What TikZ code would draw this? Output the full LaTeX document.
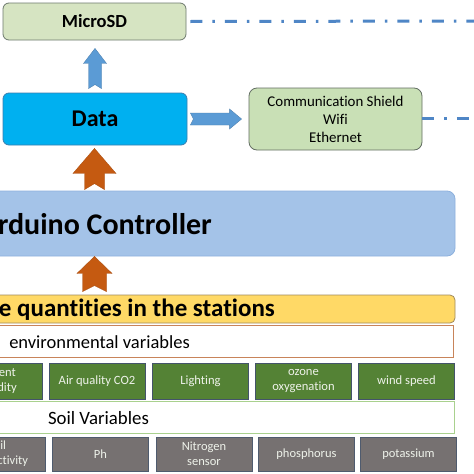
\documentclass[tikz,border=0pt]{standalone}
\usepackage{fontspec}
\setmainfont{Carlito}[Ligatures=NoCommon]
\usetikzlibrary{calc}
\definecolor{microfill}{HTML}{D6E4C2}
\definecolor{commfill}{HTML}{C9E0B6}
\definecolor{greyedge}{HTML}{6E7A6E}
\definecolor{datafill}{HTML}{00B0F0}
\definecolor{dataedge}{HTML}{3A7FB0}
\definecolor{ardfill}{HTML}{A4C3E8}
\definecolor{ardedge}{HTML}{8EB1DD}
\definecolor{yelfill}{HTML}{FFD966}
\definecolor{yeledge}{HTML}{A08A5C}
\definecolor{envedge}{HTML}{C8845A}
\definecolor{soiledge}{HTML}{A9D18E}
\definecolor{grnfill}{HTML}{548235}
\definecolor{grnedge}{HTML}{44546A}
\definecolor{gryfill}{HTML}{767171}
\definecolor{gryedge}{HTML}{4F5B6E}
\definecolor{orangearr}{HTML}{C55A11}
\definecolor{bluearr}{HTML}{5B9BD5}
\definecolor{dashcol}{HTML}{4F86C6}
\definecolor{lighttxt}{HTML}{EEF2EA}
% #1 tail point, #2 tip point, #3 half shaft, #4 half head, #5 head length, #6 notch, #7 style
\newcommand\blockup[7]{%
  \path[#7] let \p1=(#1), \p2=(#2) in
    (\x1-#3,\y1) -- (\x1,\y1+#6) -- (\x1+#3,\y1) -- (\x1+#3,\y2-#5) -- (\x1+#4,\y2-#5)
    -- (\x1,\y2) -- (\x1-#4,\y2-#5) -- (\x1-#3,\y2-#5) -- cycle;}
\newcommand\blockright[7]{%
  \path[#7] let \p1=(#1), \p2=(#2) in
    (\x1,\y1+#3) -- (\x1+#6,\y1) -- (\x1,\y1-#3) -- (\x2-#5,\y1-#3) -- (\x2-#5,\y1-#4)
    -- (\x2,\y1) -- (\x2-#5,\y1+#4) -- (\x2-#5,\y1+#3) -- cycle;}
\begin{document}
\begin{tikzpicture}[x=1pt,y=-1pt,
  rbox/.style={draw, rounded corners=6pt, inner sep=0pt, line width=0.8pt, align=center},
  greenbox/.style={draw=grnedge, fill=grnfill, line width=0.8pt, minimum width=96pt, minimum height=36pt,
     inner sep=0pt, align=center, text=lighttxt, font=\fontsize{12.6}{15}\selectfont},
  graybox/.style={draw=gryedge, fill=gryfill, line width=0.8pt, minimum width=96pt, minimum height=34pt,
     inner sep=0pt, align=center, text=lighttxt, font=\fontsize{12.5}{15}\selectfont},
  dashdot/.style={draw=dashcol, line width=3pt, dash pattern=on 12pt off 10pt on 2.5pt off 10pt},
  bluefill/.style={fill=bluearr, draw=bluearr!80!black, line width=0.3pt},
  orangefill/.style={fill=orangearr, draw=orangearr!85!black, line width=0.3pt}]
\useasboundingbox (0,0) rectangle (474,474);
\clip (0,0) rectangle (474,474);
\fill[white] (0,0) rectangle (474,474);

% top nodes
\node[rbox, draw=greyedge, fill=microfill, minimum width=183pt, minimum height=37pt,
      font=\bfseries\fontsize{18.5}{20}\selectfont] (micro) at (94.5,21.5) {MicroSD};
\node[rbox, draw=dataedge, fill=datafill, minimum width=184pt, minimum height=52pt,
      font=\bfseries\fontsize{24}{26}\selectfont] (data) at (95,119) {Data};
\node[rbox, rounded corners=8pt, draw=greyedge!90!black, fill=commfill, minimum width=173pt, minimum height=62pt,
      font=\fontsize{14.9}{18}\selectfont] (comm) at (335.5,119) {Communication Shield\\Wifi\\Ethernet};

% Arduino controller
\node[rbox, rounded corners=8pt, draw=ardedge, fill=ardfill, minimum width=713pt, minimum height=65pt] (ard) at (98.5,223.5) {};
\node[anchor=east, inner sep=0pt, font=\bfseries\fontsize{30}{32}\selectfont] (ardtxt) at (212,224) {Arduino Controller};

% yellow
\node[rbox, rounded corners=5pt, draw=yeledge, fill=yelfill, minimum width=700pt, minimum height=28pt] (yel) at (105,309) {};
\node[anchor=east, inner sep=0pt, font=\bfseries\fontsize{25}{27}\selectfont] (yeltxt) at (275,310) {Measure quantities in the stations};

% environmental variables
\node[draw=envedge, fill=white, line width=0.8pt, minimum width=700pt, minimum height=32pt, inner sep=0pt] (env) at (103,341) {};
\node[anchor=east, inner sep=0pt, font=\fontsize{18.5}{20}\selectfont] (envtxt) at (190,342) {environmental variables};

% green row
\node[greenbox] (g1) at (-6,381) {Ambient\\humidity};
\node[greenbox] (g2) at (97,381) {Air quality CO2};
\node[greenbox] (g3) at (200.5,381) {Lighting};
\node[greenbox] (g4) at (303.5,381) {ozone\\oxygenation};
\node[greenbox] (g5) at (406.5,381) {wind speed};

% soil variables
\node[draw=soiledge, fill=white, line width=0.8pt, minimum width=700pt, minimum height=32pt, inner sep=0pt] (soil) at (104,417) {};
\node[inner sep=0pt, font=\fontsize{18.8}{20}\selectfont] (soiltxt) at (98.5,418) {Soil Variables};

% gray row
\node[graybox] (s1) at (-3,454) {Soil\\conductivity};
\node[graybox] (s2) at (100.5,454) {Ph};
\node[graybox] (s3) at (204,454) {Nitrogen\\sensor};
\node[graybox] (s4) at (306.5,454) {phosphorus};
\node[graybox] (s5) at (408.5,454) {potassium};

% block arrows
\coordinate (a1t) at ($(data.north)+(0,-4)$);
\coordinate (a1h) at ($(micro.south)+(0,8)$);
\blockup{a1t}{a1h}{6.5pt}{11.5pt}{15pt}{4pt}{bluefill}
\coordinate (a2t) at ($(data.east)+(3,0)$);
\coordinate (a2h) at ($(comm.west)+(-7,0)$);
\blockright{a2t}{a2h}{6pt}{10pt}{12pt}{3pt}{bluefill}
\coordinate (o1t) at ($(ard.north)+(-4,-1)$);
\coordinate (o1h) at ($(data.south)+(-0.5,3)$);
\blockup{o1t}{o1h}{10pt}{21.5pt}{25pt}{6pt}{orangefill}
\coordinate (o2t) at ($(yel.north)+(-10.5,-3)$);
\coordinate (o2h) at ($(ard.south)+(-4,0)$);
\blockup{o2t}{o2h}{12pt}{17.5pt}{17pt}{6pt}{orangefill}

% dash-dot connectors
\coordinate (e1) at (480,21);
\coordinate (e2) at (480,118);
\draw[dashdot] ($(micro.east)+(4,0)$) -- (e1);
\draw[dashdot] ($(comm.east)+(0,-1)$) -- (e2);
\end{tikzpicture}
\end{document}
